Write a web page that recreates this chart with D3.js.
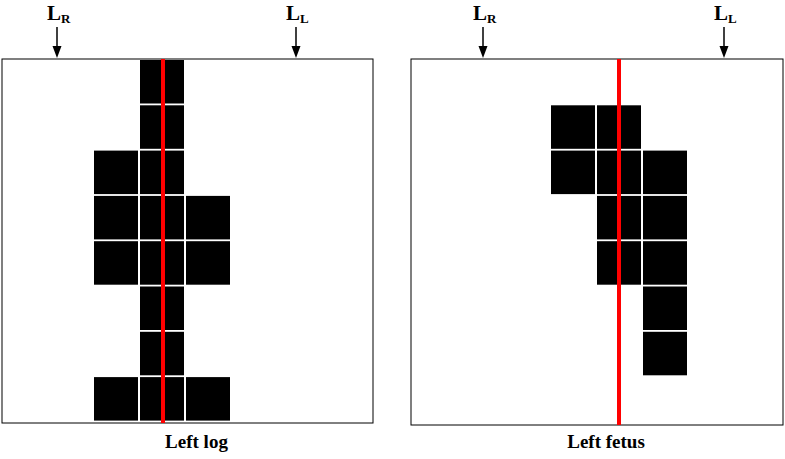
<!DOCTYPE html>
<html><head><meta charset="utf-8">
<script src="https://cdn.jsdelivr.net/npm/d3@7"></script>
<style>body{margin:0;background:#fff}</style></head>
<body><svg id="c" width="785" height="459"></svg>
<script>
// filled cells as [column, row]
var leftLogCells = [[1,0],[1,1],[0,2],[1,2],[0,3],[1,3],[2,3],[0,4],[1,4],[2,4],[1,5],[1,6],[0,7],[1,7],[2,7]];
var leftFetusCells = [[0,1],[1,1],[0,2],[1,2],[2,2],[1,3],[2,3],[1,4],[2,4],[2,5],[2,6]];
var panelTitles = ["Left log", "Left fetus"];
var markerLabels = ["R", "L"];

var svg = d3.select("#c");

var panels = [
  {title: panelTitles[0], cells: leftLogCells, x0: 2, x1: 373, y1: 423, gridX: 94, red: 163, marks: [57, 296]},
  {title: panelTitles[1], cells: leftFetusCells, x0: 411, x1: 783, y1: 425, gridX: 551, red: 619, marks: [483, 724]}
];

var row = d3.scaleLinear().domain([0, 8]).range([60, 60 + 8 * 45.3]);

panels.forEach(function(p) {
  var col = d3.scaleLinear().domain([0, 3]).range([p.gridX, p.gridX + 3 * 46]);
  var g = svg.append("g");

  g.append("rect")
    .attr("x", p.x0).attr("y", 59)
    .attr("width", p.x1 - p.x0).attr("height", p.y1 - 59)
    .attr("fill", "#fff").attr("stroke", "#000").attr("stroke-width", 1);

  g.selectAll(".cell")
    .data(p.cells)
    .enter()
    .append("rect")
    .attr("class", "cell")
    .attr("x", function(d) { return col(d[0]); })
    .attr("y", function(d) { return row(d[1]); })
    .attr("width", 44)
    .attr("height", 43.5)
    .attr("fill", "#000");

  g.append("line")
    .attr("x1", p.red).attr("x2", p.red)
    .attr("y1", 59).attr("y2", p.y1)
    .attr("stroke", "#ff0000").attr("stroke-width", 4);

  p.marks.forEach(function(mx, i) {
    var t = g.append("text")
      .attr("x", mx - 10).attr("y", 20)
      .attr("font-family", "Liberation Serif").attr("font-weight", "bold")
      .attr("font-size", 21).text("L");
    t.append("tspan").attr("font-size", 13).attr("dy", 3).text(markerLabels[i]);
    g.append("line")
      .attr("x1", mx).attr("x2", mx).attr("y1", 27).attr("y2", 50)
      .attr("stroke", "#000").attr("stroke-width", 1.5);
    g.append("path")
      .attr("d", "M" + (mx - 4.5) + ",46L" + (mx + 4.5) + ",46L" + mx + ",58Z")
      .attr("fill", "#000");
  });

  g.append("text")
    .attr("x", (p.x0 + p.x1) / 2 + (p.x0 ? 9 : -8)).attr("y", 448)
    .attr("text-anchor", "middle")
    .attr("font-family", "Liberation Serif").attr("font-weight", "bold")
    .attr("font-size", 19).text(p.title);
});
</script></body></html>
